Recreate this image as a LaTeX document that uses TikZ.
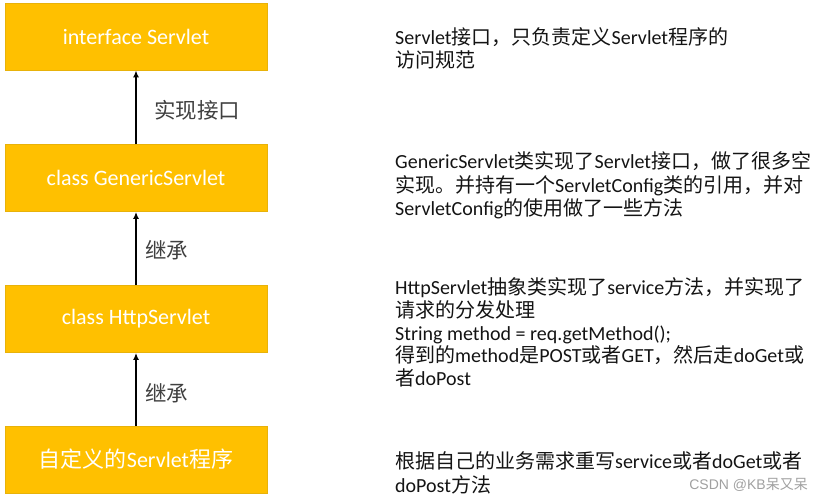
\documentclass[tikz,border=0pt]{standalone}
\usepackage{fontspec}
\setmainfont{Carlito}
\newfontfamily\cjk{Noto Sans CJK SC}
\newfontfamily\wmfont{Liberation Sans}
\newcommand\zh[1]{{\cjk #1}}
\usetikzlibrary{arrows.meta}
\definecolor{gold}{RGB}{255,192,0}
\definecolor{goldedge}{RGB}{232,178,10}
\definecolor{lblgray}{RGB}{64,64,64}
\definecolor{txtdark}{RGB}{20,20,20}
\definecolor{wmgray}{RGB}{160,160,160}
\begin{document}
\begin{tikzpicture}[x=1pt,y=-1pt,
  box/.style={draw=goldedge,line width=0.8pt,fill=gold,minimum width=262pt,minimum height=67pt,inner sep=0pt,text=white,font=\fontsize{22}{26}\selectfont},
  conn/.style={line width=2pt,-{Latex[length=7pt,width=6pt]}},
  lbl/.style={anchor=west,inner sep=0pt,text=lblgray,font=\fontsize{21.5}{24}\selectfont\cjk},
  desc/.style={anchor=west,inner sep=0pt,align=left,text=txtdark,font=\fontsize{20}{23.5}\selectfont}]
\useasboundingbox (0,0) rectangle (813,502);
\node[box] (b1) at (136,36.5) {interface Servlet};
\node[box] (b2) at (136,178) {class GenericServlet};
\node[box] (b3) at (136,319) {class HttpServlet};
\node[box] (b4) at (136,459.5) {\zh{自定义的}Servlet\zh{程序}};
\draw[conn] (b2.north) -- (b1.south);
\draw[conn] (b3.north) -- (b2.south);
\draw[conn] (b4.north) -- (b3.south);
\node[lbl] (l1) at (154,110) {实现接口};
\node[lbl] (l2) at (145,250) {继承};
\node[lbl] (l3) at (145,393) {继承};
\node[desc] (d1) at (395,48.5) {Servlet\zh{接口，只负责定义}Servlet\zh{程序的}\\\zh{访问规范}};
\node[desc] (d2) at (395,185.5) {GenericServlet\zh{类实现了}Servlet\zh{接口，做了很多空}\\\zh{实现。并持有一个}ServletConfig\zh{类的引用，并对}\\ServletConfig\zh{的使用做了一些方法}};
\node[desc,font=\fontsize{20}{22.6}\selectfont] (d3) at (395,332.5) {HttpServlet\zh{抽象类实现了}service\zh{方法，并实现了}\\\zh{请求的分发处理}\\String method = req.getMethod();\\\zh{得到的}method\zh{是}POST\zh{或者}GET\zh{，然后走}doGet\zh{或}\\\zh{者}doPost};
\node[desc] (d4) at (395,473) {\zh{根据自己的业务需求重写}service\zh{或者}doGet\zh{或者}\\doPost\zh{方法}};
\node[anchor=east,inner sep=0pt,text=wmgray,font=\fontsize{14}{16}\selectfont\wmfont] (wm) at (808,485) {CSDN @KB\zh{呆又呆}};
\end{tikzpicture}
\end{document}
